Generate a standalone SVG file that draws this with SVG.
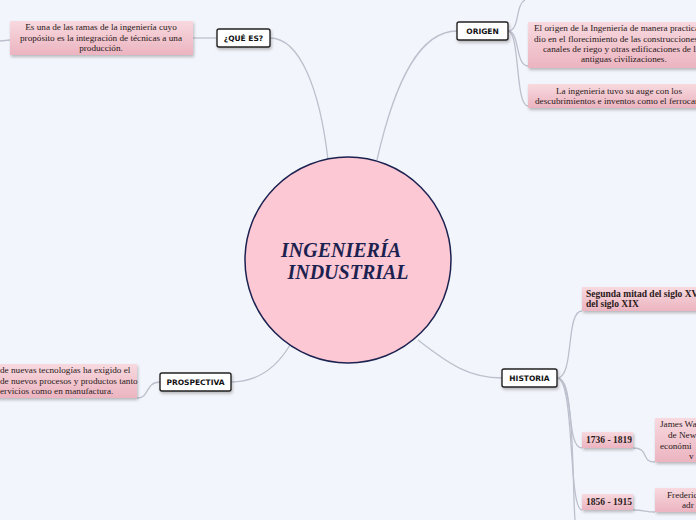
<svg xmlns="http://www.w3.org/2000/svg" width="696" height="520" viewBox="0 0 696 520">
<defs>
<linearGradient id="pk" x1="0" y1="0" x2="0" y2="1"><stop offset="0" stop-color="#f8d9df"/><stop offset="1" stop-color="#ebb4c0"/></linearGradient>
<filter id="sh" x="-10%" y="-20%" width="130%" height="160%"><feDropShadow dx="1" dy="2" stdDeviation="1.5" flood-color="#000" flood-opacity="0.25"/></filter>
</defs>
<style>
.c{fill:none;stroke:#bcc0cc;stroke-width:1.3}
.lab{fill:#fff;stroke:#222;stroke-width:1.4;filter:url(#sh)}
.lt{font-family:"DejaVu Sans",sans-serif;font-weight:bold;font-size:7.5px;fill:#111;text-anchor:middle}
.bx{fill:url(#pk);filter:url(#sh)}
.t{font-family:"Liberation Serif",serif;font-size:9.2px;fill:#2a1a1a}
.m{text-anchor:middle}
.b{font-weight:bold;font-size:9.5px}
</style>
<rect width="696" height="520" fill="#f3f5fc"/>
<g id="connectors">
<path class="c" d="M328,160 C320,90 300,38 270,38"/>
<path class="c" d="M217,38 L193,38"/>
<path class="c" d="M10,40 L0,41"/>
<path class="c" d="M377,160 C395,80 420,31 457,31"/>
<path class="c" d="M508,31 C520,31 515,5 525,0"/>
<path class="c" d="M508,31 C520,31 515,66 528,66"/>
<path class="c" d="M508,31 C520,31 515,106 528,106"/>
<path class="c" d="M290,345 C275,370 255,382 231,382"/>
<path class="c" d="M160,382 C145,382 150,398 137,398"/>
<path class="c" d="M418,340 C450,365 470,378 502,378"/>
<path class="c" d="M557,378 C575,378 565,311 582,311"/>
<path class="c" d="M557,378 C575,378 565,448 582,448"/>
<path class="c" d="M557,378 C575,378 568,510 582,510"/>
<path class="c" d="M557,378 C575,378 572,480 575,520"/>
<path class="c" d="M633,448 C650,448 640,462 655,462"/>
<path class="c" d="M633,510 C645,510 645,512 655,512"/>
</g>
<g id="center">
<circle cx="348" cy="260" r="103" fill="#fbc8d4" stroke="#1c2250" stroke-width="1.5"/>
<text x="341" y="257" text-anchor="middle" font-family="Liberation Serif,serif" font-style="italic" font-weight="bold" font-size="20" fill="#1c2250">INGENIERÍA</text>
<text x="348" y="279" text-anchor="middle" font-family="Liberation Serif,serif" font-style="italic" font-weight="bold" font-size="20" fill="#1c2250">INDUSTRIAL</text>
</g>
<g id="quees">
<rect class="lab" x="217" y="29" width="53" height="18" rx="2"/>
<text class="lt" x="243.5" y="41">¿QUÉ ES?</text>
</g>
<g id="quees-text">
<rect class="bx" x="10" y="21" width="183" height="34"/>
<text class="t m" x="101" y="30">Es una de las ramas de la ingeniería cuyo</text>
<text class="t m" x="101" y="41">propósito es la integración de técnicas a una</text>
<text class="t m" x="101" y="51">producción.</text>
</g>
<g id="origen">
<rect class="lab" x="457" y="22" width="51" height="18" rx="2"/>
<text class="lt" x="482.5" y="34">ORIGEN</text>
</g>
<g id="origen-1">
<rect class="bx" x="528" y="22" width="172" height="46"/>
<text class="t" x="534" y="31">El origen de la Ingeniería de manera practica se</text>
<text class="t" x="534" y="42">dio en el florecimiento de las construcciones,</text>
<text class="t" x="543" y="52">canales de riego y otras edificaciones de l</text>
<text class="t" x="581" y="62">antiguas civilizaciones.</text>
</g>
<g id="origen-2">
<rect class="bx" x="528" y="84" width="172" height="24"/>
<text class="t" x="556" y="94">La ingenieria tuvo su auge con  los</text>
<text class="t" x="535" y="104">descubrimientos e inventos como el ferrocar</text>
</g>
<g id="prospectiva">
<rect class="lab" x="160" y="373" width="71" height="18" rx="2"/>
<text class="lt" x="195.5" y="385">PROSPECTIVA</text>
</g>
<g id="prospectiva-text">
<rect class="bx" x="-5" y="364" width="142" height="34"/>
<text class="t" x="0" y="373">de nuevas tecnologías ha exigido el</text>
<text class="t" x="0" y="384">de nuevos procesos y productos tanto</text>
<text class="t" x="0" y="394">ervicios como en manufactura.</text>
</g>
<g id="historia">
<rect class="lab" x="502" y="369" width="55" height="18" rx="2"/>
<text class="lt" x="529.5" y="381">HISTORIA</text>
</g>
<g id="segunda">
<rect class="bx" x="582" y="287" width="118" height="24"/>
<text class="t b" x="586" y="297">Segunda mitad del siglo XV</text>
<text class="t b" x="586" y="307">del siglo XIX</text>
</g>
<g id="y1736">
<rect class="bx" x="582" y="432" width="51" height="16"/>
<text class="t b" x="586" y="443">1736 - 1819</text>
</g>
<g id="james">
<rect class="bx" x="655" y="418" width="45" height="44"/>
<text class="t" x="660" y="427">James Wa</text>
<text class="t" x="668" y="438">de New</text>
<text class="t" x="660" y="449">económi</text>
<text class="t" x="689" y="459">v</text>
</g>
<g id="y1856">
<rect class="bx" x="582" y="494" width="51" height="16"/>
<text class="t b" x="586" y="505">1856 - 1915</text>
</g>
<g id="frederic">
<rect class="bx" x="655" y="488" width="45" height="24"/>
<text class="t" x="667" y="498">Frederic</text>
<text class="t" x="682" y="508">adr</text>
</g>
</svg>
